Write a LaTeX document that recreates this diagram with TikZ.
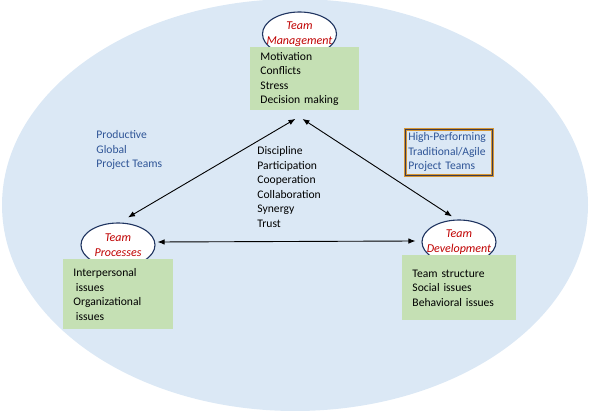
\documentclass[tikz,border=0pt]{standalone}
\usepackage{fontspec}
\setmainfont{Carlito}
\usetikzlibrary{arrows.meta,positioning,calc,shapes.geometric}
\definecolor{skyfill}{RGB}{219,232,245}
\definecolor{boxgreen}{RGB}{197,224,180}
\definecolor{teamred}{RGB}{192,0,0}
\definecolor{labelblue}{RGB}{47,85,151}
\definecolor{ovalline}{RGB}{31,52,96}
\definecolor{framegold}{RGB}{214,150,52}
\definecolor{framedark}{RGB}{60,60,80}

\begin{document}
\begin{tikzpicture}[x=1pt,y=-1pt,>={Latex[length=7pt,width=5.5pt]},font=\fontsize{11.6}{14.6}\selectfont,line width=.9pt,
  oval/.style={ellipse,draw=ovalline,line width=1.1pt,fill=white,minimum width=74,minimum height=44,inner xsep=-14pt,inner ysep=-10pt,align=center,text=teamred,font=\fontsize{12}{15.5}\selectfont\itshape},
  greenbox/.style={fill=boxgreen,anchor=north west,align=left,inner xsep=10pt,inner ysep=0pt},
  bluetext/.style={text=labelblue,align=left,anchor=north west,inner sep=0pt},
  hpbox/.style={draw=framegold,line width=2.6pt,postaction={draw=framedark,line width=.8pt},fill=skyfill,text=labelblue,align=left,anchor=north west,inner xsep=3pt,inner ysep=0pt}]
\useasboundingbox (0,0) rectangle (589,411);
\fill[skyfill] (295,205) ellipse [x radius=293, y radius=206];

\node[oval] (mgmt) at (299.5,34) {Team\\Management};
\node[oval] (procs) at (118,245) {Team\\Processes};
\node[oval] (devel) at (459,242) {Team\\Development};

\node[greenbox,minimum width=109,minimum height=63,text width=89] (mgmtbox) at (250,47) {Motivation\\Conflicts\\Stress\\Decision making};
\node[greenbox,minimum width=110,minimum height=70,text width=90] (procsbox) at (63,259) {Interpersonal\\\hspace*{2.5pt}issues\\Organizational\\\hspace*{2.5pt}issues};
\node[greenbox,minimum width=114,minimum height=65,text width=94] (develbox) at (402,255) {Team structure\\Social issues\\Behavioral issues};

\node[bluetext] (productive) at (96,130) {Productive\\Global\\Project Teams};
\node[hpbox,minimum width=87,minimum height=46,text width=81] (hpteams) at (404,128) {High-Performing\\Traditional/Agile\\Project Teams};
\node[anchor=north west,align=left,inner sep=0pt] (values) at (257,146) {Discipline\\Participation\\Cooperation\\Collaboration\\Synergy\\Trust};

\draw[<->] ($(mgmtbox.south)+(-9.5,8)$) -- ($(procs.north)+(10,-5)$);
\draw[<->] ($(mgmtbox.south)+(-2.5,8)$) -- ($(devel.north)+(-7,-3)$);
\draw[<->] ($(procs.east)+(2,-3)$) -- ($(devel.west)+(-6,-1)$);
\end{tikzpicture}
\end{document}
